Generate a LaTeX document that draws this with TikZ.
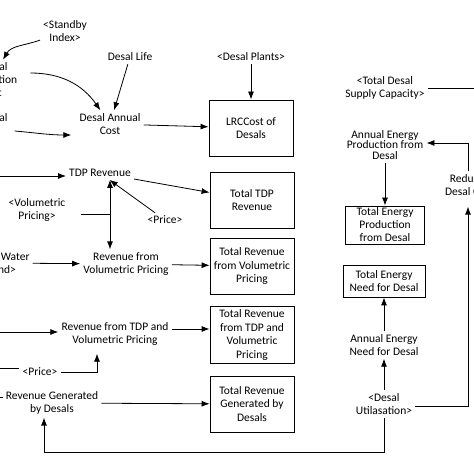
\documentclass[tikz,border=0pt]{standalone}
\usepackage{fontspec}
\setmainfont{Carlito}
\usepackage{tikz}
\usetikzlibrary{arrows.meta}

\tikzset{
  auxvar/.style={align=center, inner sep=3pt, font=\fontsize{11.5}{13}\selectfont},
  stockbox/.style={draw, line width=0.8pt, align=center, minimum width=84pt, minimum height=56pt, font=\fontsize{11.5}{13.5}\selectfont},
  energybox/.style={draw, line width=0.8pt, align=center, inner sep=2pt, font=\fontsize{11.5}{13}\selectfont},
  link/.style={line width=0.8pt, ->},
}

\begin{document}
\begin{tikzpicture}[x=1pt,y=1pt,>={Latex[length=8pt,width=6pt]}]
\useasboundingbox (0,0) rectangle (474,474);
\clip (0,0) rectangle (474,474);

% cost part
\node[auxvar] (standby) at (65,443) {<Standby\\Index>};
\node[auxvar] (prodcost) at (-8.5,394) {Capital\\Production\\Cost};
\node[auxvar] (omcost) at (-23,350) {Annual Desal\\O\&M};
\node[auxvar] (desallife) at (130,417) {Desal Life};
\node[auxvar] (annualcost) at (110,350) {Desal Annual\\Cost};
\node[auxvar] (plants) at (251,417) {<Desal Plants>};
\node[stockbox] (lrc) at (251,346) {LRCCost of\\Desals};

% revenue part
\node[auxvar] (tdprev) at (100,301) {TDP Revenue};
\node[stockbox] (ttdp) at (252,274) {Total TDP\\Revenue};
\node[auxvar] (volpr) at (37,264) {<Volumetric\\Pricing>};
\node[auxvar] (price1) at (165,254) {<Price>};
\node[auxvar] (water) at (-6.7,211) {<Potable Water\\Demand>};
\node[auxvar] (revvol) at (126,210) {Revenue from\\Volumetric Pricing};
\node[stockbox] (tvol) at (252,208) {Total Revenue\\from Volumetric\\Pricing};
\node[auxvar] (revtdp) at (115,140) {Revenue from TDP and\\Volumetric Pricing};
\node[stockbox] (ttv) at (252,139) {Total Revenue\\from TDP and\\Volumetric\\Pricing};
\node[auxvar] (price2) at (40,102) {<Price>};
\node[auxvar] (revgen) at (52,71) {Revenue Generated\\by Desals};
\node[stockbox] (tgen) at (252,70) {Total Revenue\\Generated by\\Desals};

% energy part
\node[auxvar] (supcap) at (385,386) {<Total Desal\\Supply Capacity>};
\node[auxvar, font=\fontsize{11.5}{10.5}\selectfont] (aep) at (385,329) {Annual Energy\\Production from\\Desal};
\node[auxvar] (reduce) at (479,288) {Reduction in\\Desal Capacity};
\node[energybox, minimum width=79pt] (tep) at (385,249) {Total Energy\\Production\\from Desal};
\node[energybox, minimum width=82pt, minimum height=32pt] (ten) at (384,193) {Total Energy\\Need for Desal};
\node[auxvar] (aen) at (384,129) {Annual Energy\\Need for Desal};
\node[auxvar] (util) at (384,70) {<Desal\\Utilasation>};

% free ends and bends
\coordinate (in1) at (-5,298);
\coordinate (in3) at (-5,142);
\coordinate (in4) at (-5,106);
\coordinate (out1) at (-9,77);
\coordinate (out2) at (480,386);
\coordinate (vj) at (110,260);
\coordinate (bl) at (44,22);
\coordinate (rt) at ([yshift=5pt]revtdp.east);

\draw[link] (standby) to[out=200,in=60] ([xshift=11.5pt]prodcost.north);
\draw[link] ([xshift=10pt,yshift=7pt]prodcost.east) to[out=0,in=125] (annualcost);
\draw[link] ([xshift=4pt,yshift=-7pt]omcost.east) to[out=-5,in=180] ([xshift=-5pt,yshift=-11pt]annualcost.west);
\draw[link] (desallife) -- (annualcost);
\draw[link] (annualcost) -- (lrc);
\draw[link] (plants) -- (lrc);

\draw[link] (in1) -- (in1 -| tdprev.west);
\draw[link] (tdprev) -- (ttdp);
\draw[line width=0.8pt] ([xshift=12pt,yshift=-4pt]volpr.east) -- (vj); % joins the two-way arrow
\draw[link, <->] (vj |- tdprev.south) -- (vj |- revvol.north);
\draw[link] (price1) -- (tdprev);
\draw[link] (water) -- (revvol);
\draw[link] (revvol) -- (tvol);
\draw[link] (in3) -- (in3 -| revtdp.west);
\draw[link] (rt) -- (rt -| ttv.west);
\draw[line width=0.8pt] (in4) -- (in4 -| price2.west);
\draw[link] (price2.east) -| ([xshift=-18pt,yshift=-5pt]revtdp.south);
\draw[link] ([yshift=6pt]revgen.west) -- (out1);
\draw[link] (revgen) -- (tgen);
\draw[link] (util.south) |- (bl) -- ([xshift=-8pt]revgen.south);

\draw[line width=0.8pt] (supcap.east) -- (out2);
\draw[link] ([yshift=-2pt]util.east) -| ([xshift=-11pt,yshift=-6pt]reduce.south);
\draw[link] ([xshift=-11pt]reduce.north) |- ([yshift=2pt]aep.east);
\draw[link] (aep) -- (tep);
\draw[link] (aen) -- (ten);
\draw[link] (util) -- (aen);
\end{tikzpicture}
\end{document}
